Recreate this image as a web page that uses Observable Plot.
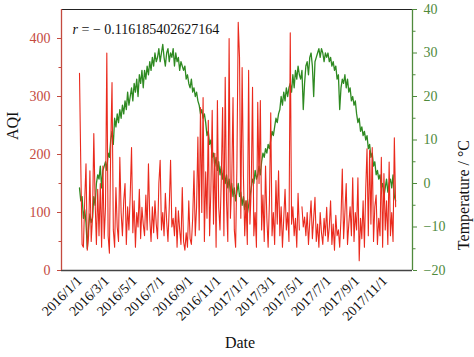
<!DOCTYPE html>
<html><head><meta charset="utf-8">
<script src="https://cdn.jsdelivr.net/npm/d3@7"></script>
<script src="https://cdn.jsdelivr.net/npm/@observablehq/plot@0.6"></script>
<style>body{margin:0;background:#fff} svg{display:block} svg text{font-family:"Liberation Serif",serif}</style>
</head><body><div id="chart"></div>
<script>
// Sampling period of the series (~every 3 days)
const startDate = "2016-01-01";
const endDate = "2017-11-25";

const aqi = [
  340, 180, 45, 40, 120, 184, 35, 60, 172, 50,
  90, 236, 120, 45, 140, 60, 150, 40, 180, 55,
  110, 375, 60, 30, 212, 324, 70, 40, 143, 75,
  50, 195, 100, 60, 120, 150, 45, 110, 70, 130,
  212, 65, 120, 40, 100, 75, 140, 55, 109, 80,
  60, 130, 70, 184, 90, 50, 110, 65, 120, 80,
  55, 150, 190, 70, 100, 60, 133, 85, 50, 110,
  190, 75, 90, 60, 109, 40, 103, 70, 45, 143,
  50, 35, 65, 40, 120, 55, 45, 90, 172, 60,
  110, 230, 70, 281, 100, 298, 50, 170, 90, 259,
  60, 140, 276, 80, 202, 40, 293, 110, 70, 160,
  281, 60, 333, 120, 50, 400, 90, 150, 298, 70,
  40, 180, 428, 367, 90, 350, 163, 60, 120, 45,
  345, 80, 140, 316, 60, 100, 40, 290, 150, 293,
  70, 130, 50, 180, 90, 40, 120, 272, 60, 100,
  45, 155, 80, 172, 60, 110, 40, 90, 140, 70,
  100, 50, 410, 80, 110, 60, 90, 40, 133, 70,
  null, 110, 75, 92, 60, 100, 45, 85, 120, 55,
  90, 126, 50, 80, 40, 100, 65, 45, 90, 60,
  109, 50, 75, 120, 45, 80, 35, 95, 60, 70,
  40, 90, 175, 55, 100, 150, 45, 80, 110, 60,
  160, 50, 100, 70, 160, 17, 90, 55, 120, 40,
  140, 210, 60, 207, 80, 212, 50, 110, 130, 45,
  90, 60, 195, 40, 167, 70, 120, 45, 187, 60,
  100, 50, 229, 110
];

const temperature = [
  -1, -4, -3, -8, -6, -9, -15, -10, -7, -9,
  -8, -3, -5, 0, 2, 1, 4, -1, 3, 4,
  5, 3, 7, 6, 10, 12, 9, 15, 13, 16,
  14, 17, 15, 18, 16, 19, 17, 21, 18, 20,
  22, 19, 23, 21, 24, 20, 25, 23, 26, 22,
  26, 24, 27, 25, 28, 26, 29, 27, 30, 28,
  29, 31, 28, 30, 32, 29, 27, 30, 31, 28,
  30, 29, 31, 27, 30, 28, 29, 26, 28, 27,
  26, 27, 24, 25, 23, 22, 24, 21, 22, 20,
  21, 19, 18, 16, 17, 15, 16, 14, 11, 12,
  9, 10, 6, 7, 4, 6, 3, 5, 2, 4,
  1, 3, 0, 2, -1, 1, -2, 0, -3, -1,
  -4, -2, 0, -3, -2, -5, -3, -6, -4, -7,
  -5, -3, -1, 1, 0, 3, 1, 2, 4, 2,
  5, 7, 6, 8, 7, 9, 8, 10, 12, 11,
  13, 15, 14, 16, 17, 20, 18, 21, 19, 22,
  20, 22, 23, 21, 25, 22, 26, 24, 27, 25,
  24, 26, 17, 23, 27, 28, 25, 29, 30, 27,
  20, 28, 29, 30, 31, 29, 31, 30, 28, 30,
  29, 30, 28, 29, 27, 28, 26, 27, 24, 25,
  17, 22, 24, 23, 25, 22, 24, 21, 22, 19,
  20, 18, 19, 16, 14, 15, 12, 13, 11, 12,
  10, 11, 8, 9, 6, 7, 4, 5, 2, 3,
  1, 2, -1, 0, -3, -1, 1, -2, 0, 1,
  -1, 2, -3, -4
];

const xTickLabels = ["2016/1/1","2016/3/1","2016/5/1","2016/7/1","2016/9/1","2016/11/1",
  "2017/1/1","2017/3/1","2017/5/1","2017/7/1","2017/9/1","2017/11/1"];
const aqiTicks = [0, 100, 200, 300, 400];
const aqiMinorTicks = [50, 150, 250, 350];
const tempTicks = [-20, -10, 0, 10, 20, 30, 40];
const tempMinorTicks = [-15, -5, 5, 15, 25, 35];
const rValue = "0.116185402627164";

// ---- build ----
const parseLabel = s => { const [y, m, d] = s.split("/").map(Number); return new Date(Date.UTC(y, m - 1, d)); };
const xTicks = xTickLabels.map(parseLabel);
const labelOf = new Map(xTicks.map((d, i) => [+d, xTickLabels[i]]));
const t0 = Date.parse(startDate + "T00:00:00Z"), t1 = Date.parse(endDate + "T00:00:00Z");
const n = aqi.length;
const data = aqi.map((a, i) => ({
  date: new Date(t0 + (t1 - t0) * i / (n - 1)),
  aqi: a,
  temp: temperature[i]
}));

const aqiMax = 450, tMin = -20, tMax = 40;
const tToY = t => (t - tMin) * aqiMax / (tMax - tMin);
const yToT = v => Math.round(v * (tMax - tMin) / aqiMax + tMin);
const minus = v => (v < 0 ? "\u2212" + Math.abs(v) : String(v));

const xDomain = [new Date(Date.UTC(2015, 10, 22, 12)), new Date(Date.UTC(2018, 0, 1))];
const RED_AXIS = "#c44a3f", GREEN_AXIS = "#4f8a3c";
const RED = "#ea2a1d", GREEN = "#2f8a22";
const FONT = "Liberation Serif";

const chart = Plot.plot({
  width: 474, height: 357,
  marginLeft: 61, marginRight: 62, marginTop: 9, marginBottom: 87,
  style: {fontFamily: FONT, fontSize: "14px", background: "#fff"},
  x: {type: "utc", domain: xDomain, label: null},
  y: {domain: [0, aqiMax], label: null},
  marks: [
    Plot.lineY(data, {x: "date", y: d => d.temp == null ? null : tToY(d.temp), stroke: GREEN, strokeWidth: 1.3}),
    Plot.lineY(data, {x: "date", y: "aqi", stroke: RED, strokeWidth: 1.1}),
    Plot.ruleY([aqiMax], {stroke: "#222", strokeWidth: 1}),
    Plot.ruleY([0], {stroke: "#444", strokeWidth: 1.6}),
    Plot.ruleX([xDomain[0]], {stroke: RED_AXIS, strokeWidth: 1.3}),
    Plot.ruleX([xDomain[1]], {stroke: GREEN_AXIS, strokeWidth: 1.3}),
    Plot.axisY(aqiTicks, {anchor: "left", color: RED_AXIS, tickSize: 4, tickPadding: 7, label: null, fontSize: 14, fontFamily: FONT}),
    Plot.axisY(aqiMinorTicks, {anchor: "left", color: RED_AXIS, tickSize: 2.5, tickFormat: () => "", label: null}),
    Plot.axisY(tempTicks.map(tToY), {anchor: "right", color: GREEN_AXIS, tickSize: 4, tickPadding: 7, tickFormat: v => minus(yToT(v)), label: null, fontSize: 14, fontFamily: FONT}),
    Plot.axisY(tempMinorTicks.map(tToY), {anchor: "right", color: GREEN_AXIS, tickSize: 2.5, tickFormat: () => "", label: null}),
    Plot.axisX(xTicks, {anchor: "bottom", tickSize: 0, tickPadding: 8, tickRotate: -45, tickFormat: d => labelOf.get(+d), label: null, fontSize: 14, fontFamily: FONT, color: "#111"}),
    Plot.text(["AQI"], {text: d => d, frameAnchor: "left", dx: -49, rotate: -90, fontSize: 16, fill: "#111", fontFamily: FONT}),
    Plot.text(["Temperature / \u00B0C"], {text: d => d, frameAnchor: "right", dx: 51, rotate: -90, fontSize: 16, fill: "#111", fontFamily: FONT}),
    Plot.text(["Date"], {text: d => d, frameAnchor: "bottom", dx: 3, dy: 77, fontSize: 16, fill: "#111", fontFamily: FONT}),
    Plot.text(["r"], {text: d => d, frameAnchor: "top-left", dx: 11, dy: 15, textAnchor: "start", fontStyle: "italic", fontSize: 14, fill: "#111", fontFamily: FONT}),
    Plot.text(["= \u2212 " + rValue], {text: d => d, frameAnchor: "top-left", dx: 20, dy: 15, textAnchor: "start", fontSize: 14, fill: "#111", fontFamily: FONT})
  ]
});
document.getElementById("chart").append(chart);
</script>
</body></html>
